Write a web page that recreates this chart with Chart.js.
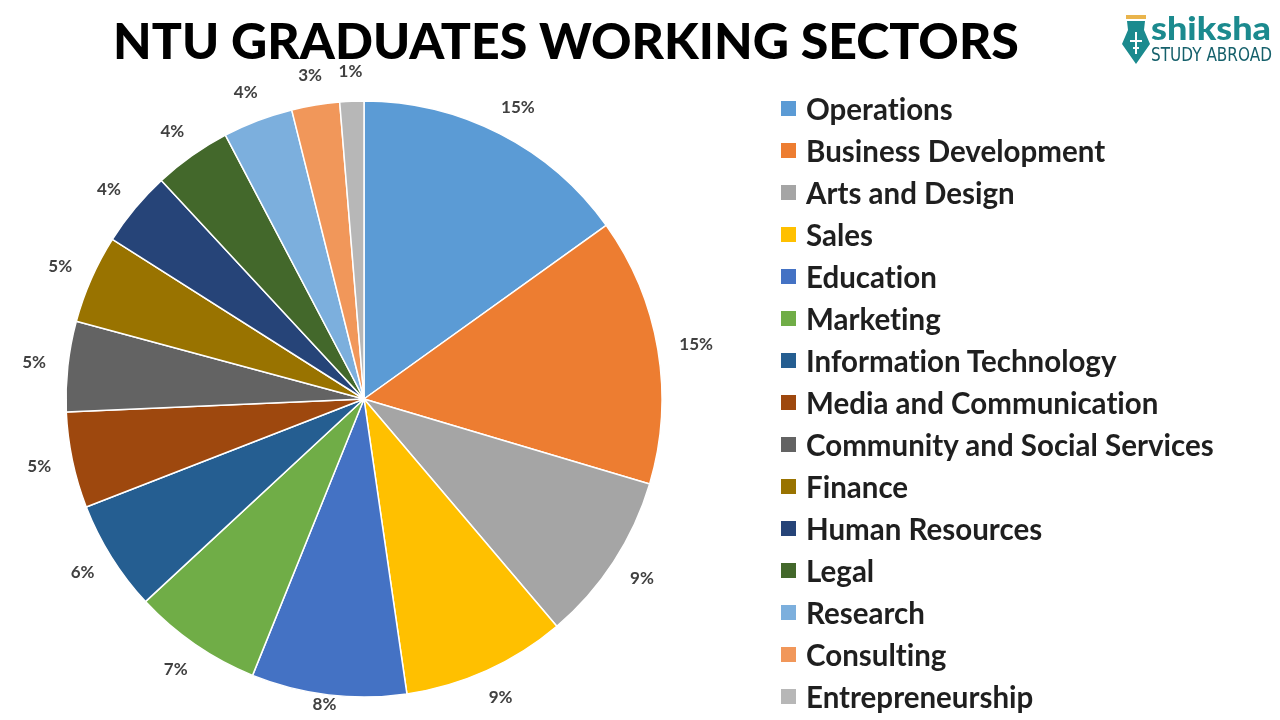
<!DOCTYPE html>
<html>
<head>
<meta charset="utf-8">
<script src="https://cdn.jsdelivr.net/npm/chart.js@4"></script>
<style>
  html,body{margin:0;padding:0;background:#fff;}
  #wrap{position:relative;width:1280px;height:720px;overflow:hidden;background:#fff;}
  #c{position:absolute;left:0;top:0;}
  #title{position:absolute;left:0;top:8px;width:1132px;text-align:center;font-family:Lato,"Open Sans",sans-serif;font-weight:900;font-size:50px;color:#000;white-space:nowrap;line-height:64px;}
  #legend{position:absolute;left:781px;top:87px;font-family:Lato,"Open Sans",sans-serif;font-weight:700;font-size:29.5px;color:#1f1f1f;font-variant-ligatures:none;}
  .row{height:42px;display:flex;align-items:center;white-space:nowrap;}
  .box{width:15px;height:15px;margin-right:10px;flex:none;}
  #logo{position:absolute;left:1120px;top:8px;width:155px;height:60px;}
</style>
</head>
<body>
<div id="wrap">
  <canvas id="c" width="1280" height="720"></canvas>
  <div id="title">NTU GRADUATES WORKING SECTORS</div>
  <div id="legend"></div>
  <svg id="logo" viewBox="0 0 155 60" xmlns="http://www.w3.org/2000/svg">
    <rect x="6" y="7" width="20" height="4" fill="#e9b44c"/>
    <path d="M7 13 L25 13 L24 22 L30 36 L16 56 L2 36 L8 22 Z" fill="#1b8a8e"/>
    <path d="M16 24 L16 46" stroke="#fff" stroke-width="2"/>
    <path d="M10 33 L22 33 M13 40 L19 40" stroke="#fff" stroke-width="2"/>
    <text x="31" y="32" font-family="Lato,'Open Sans',sans-serif" font-weight="900" font-size="33" fill="#1b8a8e" textLength="120" lengthAdjust="spacingAndGlyphs">shiksha</text>
    <text x="31" y="53" font-family="'DejaVu Sans',sans-serif" font-weight="400" font-size="19" fill="#15606b" textLength="121" lengthAdjust="spacingAndGlyphs">STUDY ABROAD</text>
  </svg>
</div>
<script>
const categories = ['Operations','Business Development','Arts and Design','Sales','Education','Marketing','Information Technology','Media and Communication','Community and Social Services','Finance','Human Resources','Legal','Research','Consulting','Entrepreneurship'];
const shares = [15.1,14.5,9.2,8.9,8.4,7.0,6.0,5.2,4.9,4.8,4.1,4.2,3.8,2.6,1.3];
const colors = ['#5B9BD5','#ED7D31','#A5A5A5','#FFC000','#4472C4','#70AD47','#255E91','#9E480E','#636363','#997300','#264478','#43682B','#7CAFDD','#F1975A','#B7B7B7'];

// legend
const lg = document.getElementById('legend');
categories.forEach((c,i)=>{
  const r=document.createElement('div');r.className='row';
  const b=document.createElement('div');b.className='box';b.style.background=colors[i];
  const t=document.createElement('span');t.textContent=c;
  r.appendChild(b);r.appendChild(t);lg.appendChild(r);
});

const outLabels = {
  id:'outLabels',
  afterDatasetsDraw(chart){
    const ctx=chart.ctx;
    const meta=chart.getDatasetMeta(0);
    const data=chart.data.datasets[0].data;
    const total=data.reduce((a,b)=>a+b,0);
    ctx.save();
    ctx.font='bold 17px Lato, "Open Sans", sans-serif';
    ctx.fillStyle='#404040';
    ctx.textAlign='center';ctx.textBaseline='middle';
    meta.data.forEach((arc,i)=>{
      const p=arc.getProps(['x','y','startAngle','endAngle','outerRadius'],true);
      const mid=(p.startAngle+p.endAngle)/2;
      const txt=Math.round(data[i]/total*100)+'%';
      const w=ctx.measureText(txt).width, h=16;
      const rr=p.outerRadius+22;
      let x=p.x+Math.cos(mid)*rr+Math.cos(mid)*w/2;
      let y=p.y+Math.sin(mid)*rr+Math.sin(mid)*h/2;
      if(y>705) y=705;
      ctx.fillText(txt,x,y);
    });
    ctx.restore();
  }
};

new Chart(document.getElementById('c'),{
  type:'pie',
  data:{labels:categories,datasets:[{data:shares,backgroundColor:colors,borderColor:'#ffffff',borderWidth:1.5,hoverOffset:0}]},
  options:{
    responsive:false,animation:false,
    radius:298,
    layout:{padding:{left:66,right:618,top:101,bottom:23}},
    plugins:{legend:{display:false},tooltip:{enabled:false},title:{display:false}}
  },
  plugins:[outLabels]
});
</script>
</body>
</html>
